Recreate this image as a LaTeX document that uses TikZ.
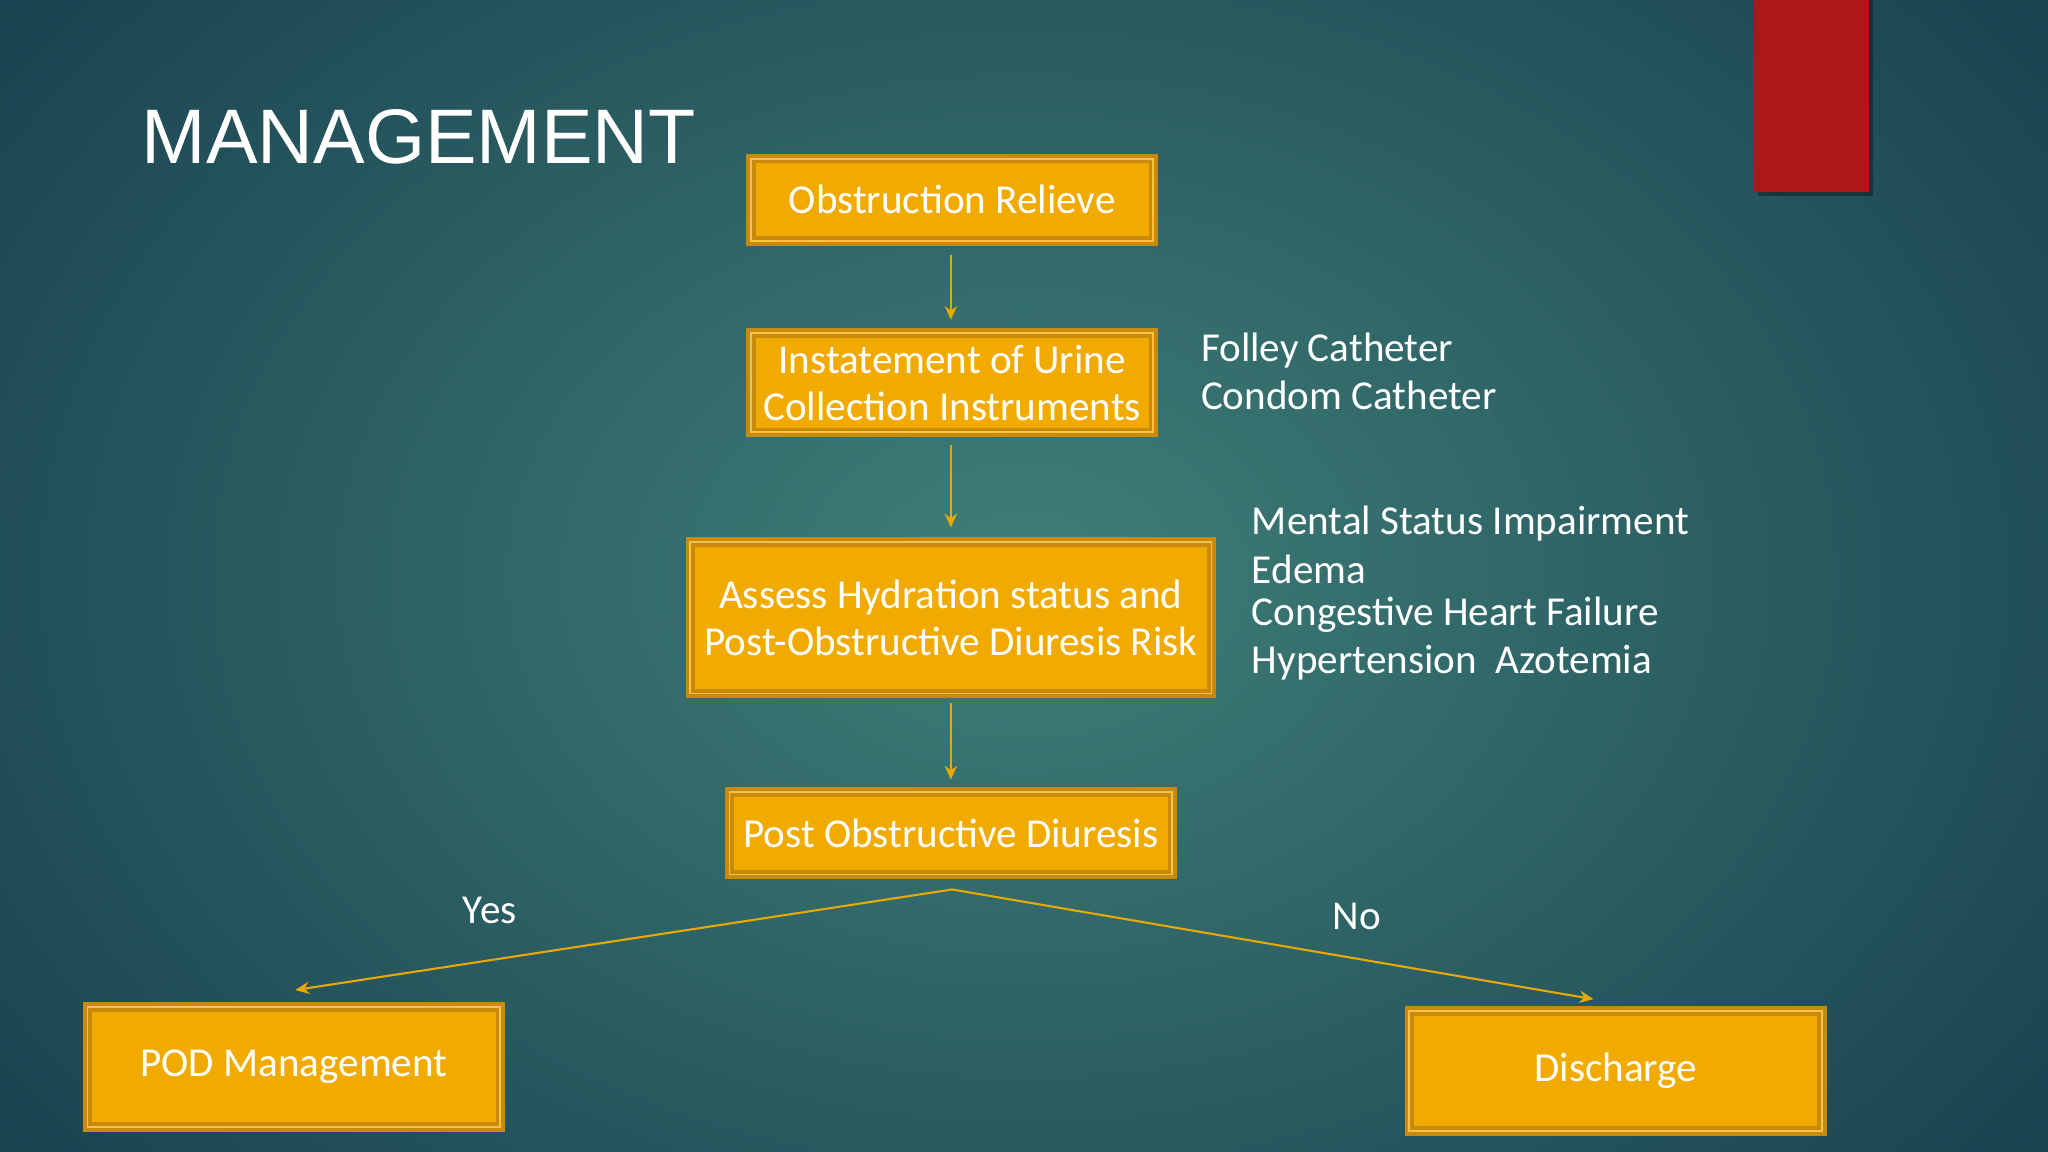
\documentclass[tikz,border=0pt]{standalone}
\usepackage{fontspec}
\usetikzlibrary{arrows.meta}
\setmainfont{Carlito}
\newfontfamily\titlefont{Liberation Sans}
\definecolor{bgin}{HTML}{3F7F78}
\definecolor{bgout}{HTML}{163C4C}
\definecolor{boxfill}{HTML}{F0AA00}
\definecolor{boxedge}{HTML}{C98A0C}
\definecolor{boxinner}{HTML}{F7C24A}
\definecolor{arr}{HTML}{E8A800}
\definecolor{redbar}{HTML}{AE1717}
\begin{document}
\begin{tikzpicture}[x=0.013061cm,y=-0.013061cm,
  box/.style={draw=boxedge,line width=1.1pt,double=boxinner,double distance=0.5pt,fill=boxfill,text=white,font=\fontsize{11.7}{13.3}\selectfont,align=center,inner sep=0pt},
  conn/.style={draw=arr,line width=0.6pt,-{Stealth[length=4pt,width=3.5pt]}},
  side/.style={text=white,font=\fontsize{11.7}{13.3}\selectfont,anchor=west,inner sep=0pt}]
\useasboundingbox (0,0) rectangle (1568,882);
\begin{scope}
\clip (0,0) rectangle (1568,882);
\shade[inner color=bgin,outer color=bgout] (-300,-350) rectangle (1868,1232);
\end{scope}
\fill[black,opacity=0.35] (1346,0) rectangle (1434,150);
\fill[redbar] (1343,0) rectangle (1431,147);
\node[text=white,font=\titlefont\fontsize{22}{26}\selectfont,anchor=west,inner sep=0pt] (title) at (108,105) {MANAGEMENT};
\node[box,minimum width=308*0.013061cm,minimum height=63*0.013061cm] (a) at (729,153) {Obstruction Relieve};
\node[box,minimum width=308*0.013061cm,minimum height=76*0.013061cm] (b) at (729,293) {Instatement of Urine\\Collection Instruments};
\node[box,minimum width=399*0.013061cm,minimum height=116*0.013061cm] (c) at (728,473) {Assess Hydration status and\\Post-Obstructive Diuresis Risk};
\node[box,minimum width=339*0.013061cm,minimum height=63*0.013061cm] (d) at (728,638) {Post Obstructive Diuresis};
\node[box,minimum width=316*0.013061cm,minimum height=92*0.013061cm] (e) at (225,817) {POD Management};
\node[box,minimum width=316*0.013061cm,minimum height=92*0.013061cm] (f) at (1237,820) {Discharge};
\coordinate (s1) at (728,195); \coordinate (t1) at (728,245);
\coordinate (s2) at (728,341); \coordinate (t2) at (728,404);
\coordinate (s3) at (728,538); \coordinate (t3) at (728,597);
\coordinate (sp) at (729,681); \coordinate (ty) at (226,758); \coordinate (tn) at (1220,765);
\draw[conn] (s1) -- (t1);
\draw[conn] (s2) -- (t2);
\draw[conn] (s3) -- (t3);
\draw[conn] (sp) -- (ty);
\draw[conn] (sp) -- (tn);
\node[side,anchor=center] (yes) at (375,697) {Yes};
\node[side,anchor=center] (no) at (1039,702) {No};
\node[side] (s1t) at (919,268) {Folley Catheter};
\node[side] (s2t) at (919,303) {Condom Catheter};
\node[side] (m1) at (958,401) {Mental Status Impairment};
\node[side] (m2) at (958,436) {Edema};
\node[side] (m3) at (958,471) {Congestive Heart Failure};
\node[side] (m4) at (958,507) {Hypertension\ \ Azotemia};
\end{tikzpicture}
\end{document}
